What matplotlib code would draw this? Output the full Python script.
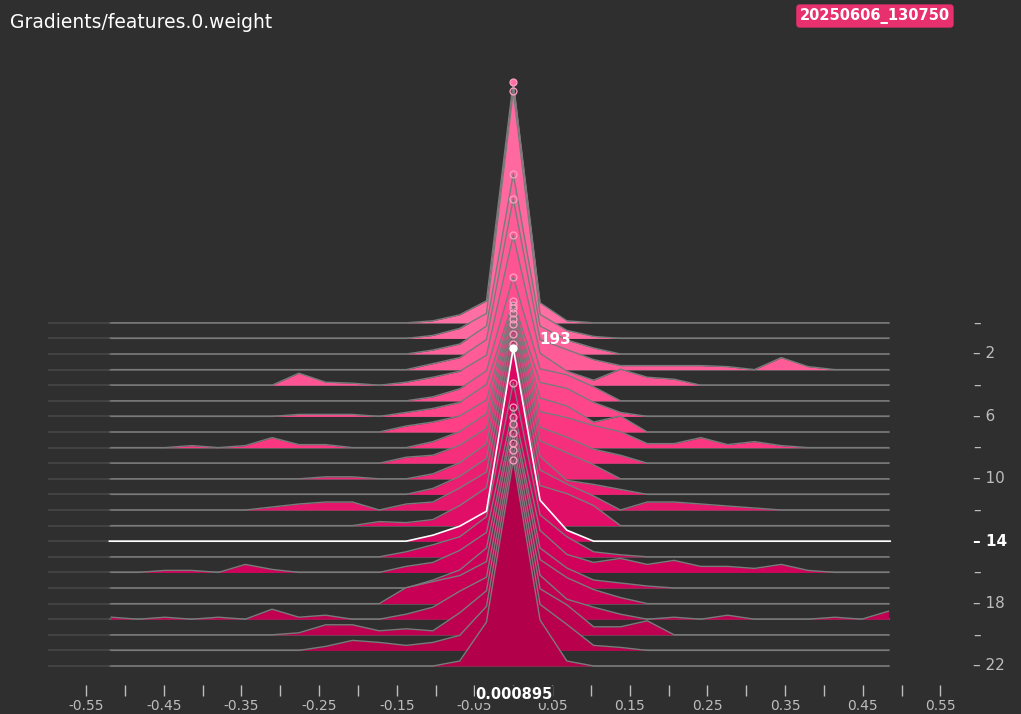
import matplotlib.pyplot as plt
import numpy as np
from matplotlib.colors import LinearSegmentedColormap
import matplotlib.transforms as mtransforms

# bin positions (x) shared by all steps
bin_x = [round(k * 0.0345, 4) for k in range(-15, 15)]
steps = list(range(23))
peaks = [241, 247, 180, 171, 150, 124, 115, 127, 140, 150, 160, 170, 176, 182,
         193, 174, 165, 171, 180, 186, 192, 200, 206]
# near-centre counts for bins k=-4..-1 and 1..4
left_side = [
    [0, 2, 8, 22], [0, 3, 10, 25], [0, 4, 10, 28], [0, 6, 12, 30], [3, 8, 14, 30],
    [0, 4, 12, 30], [4, 8, 14, 32], [6, 10, 16, 32], [0, 6, 16, 34], [6, 8, 18, 35],
    [0, 5, 16, 35], [0, 6, 18, 36], [6, 8, 22, 38], [3, 6, 20, 38], [0, 6, 15, 30],
    [5, 12, 20, 40], [6, 10, 22, 40], [0, 8, 18, 40], [16, 22, 28, 42], [5, 12, 28, 42],
    [6, 4, 22, 44], [5, 8, 15, 44], [0, 0, 5, 44]]
right_side = [
    [20, 2, 0, 0], [24, 8, 2, 0], [28, 14, 6, 0], [30, 20, 10, 4], [32, 14, 5, 16],
    [32, 26, 14, 0], [34, 28, 14, 4], [34, 26, 10, 16], [36, 30, 22, 16], [36, 26, 14, 8],
    [38, 26, 14, 0], [38, 14, 10, 5], [40, 26, 14, 0], [40, 32, 20, 0], [41, 11, 0, 0],
    [42, 20, 5, 2], [42, 18, 10, 14], [40, 20, 8, 5], [44, 26, 14, 6], [44, 20, 12, 5],
    [46, 30, 8, 8], [46, 26, 5, 3], [46, 5, 0, 0]]
# sparse outliers: step -> {bin index k: count}
outliers = {
    3: {5: 4, 6: 4, 7: 4, 8: 3, 10: 12, 11: 3},
    4: {-8: 12, -7: 3, -6: 2, 5: 8, 6: 6},
    6: {-8: 2, -7: 2, -6: 2},
    8: {-12: 2, -10: 2, -9: 10, -8: 3, -7: 3, 5: 4, 6: 4, 7: 10, 8: 3, 9: 6, 10: 2},
    10: {-7: 2, -6: 2},
    12: {-9: 3, -8: 6, -7: 8, -6: 8, 5: 8, 6: 8, 7: 6, 8: 4, 9: 2},
    13: {-5: 4},
    16: {-13: 2, -12: 2, -10: 8, -9: 3, 5: 8, 6: 12, 7: 6, 8: 6, 9: 4, 10: 8, 11: 2},
    17: {5: 2},
    19: {-15: 2, -13: 2, -11: 2, -9: 10, -8: 2, -7: 4, 6: 2, 8: 4, 12: 2, 14: 8},
    20: {-8: 2, -7: 10, -6: 10, -5: 4, 5: 14},
    21: {-7: 4, -6: 10, -5: 8},
}

ROW_GAP = 15.6
cmap = LinearSegmentedColormap.from_list('pk', ['#ff6fa3', '#ff3d85', '#d8005f', '#b3004a'])

fig = plt.figure(figsize=(10.21, 7.14), dpi=100, facecolor='#2f2f2f')
ax = fig.add_axes([48 / 1021, 1 - 685 / 714, 922 / 1021, 625 / 714])
ax.set_facecolor('#2f2f2f')
ax.set_xlim(-0.599, 0.588)
ax.set_ylim(-19, 606)

for i in steps:
    base = (22 - i) * ROW_GAP
    h = np.zeros(len(bin_x))
    c = 15
    h[c] = peaks[i]
    h[c - 4:c] = left_side[i]
    h[c + 1:c + 5] = right_side[i]
    for k, v in outliers.get(i, {}).items():
        h[c + k] = max(h[c + k], v)
    x = np.array(bin_x)
    col = cmap(i / 22)
    z = 2 * i
    ax.hlines(base, -0.599, 0.4853, color='#474747', lw=1.2, zorder=z)
    ax.hlines(base, -0.52, 0.4853, color='#5c5c5c', lw=1.2, zorder=z)
    ax.fill_between(x, base, base + h, color=col, lw=0, zorder=z + 1)
    if i == 14:
        ax.plot(np.r_[-0.52, x, 0.4853], np.r_[base, base + h, base], color='white', lw=1.2, zorder=100)
        ax.plot(0, base + h[c], 'o', ms=5, color='white', zorder=101)
        ax.text(0.033, base + h[c] + 4, '193', color='white', fontsize=11, fontweight='bold', zorder=101)
    else:
        ax.plot(x, base + h, color='#7a7a7a', lw=1, zorder=z + 1)
        ax.plot(0, base + h[c], 'o', ms=5, mfc='#ff6fa3' if i == 0 else 'none',
                mec='#ffa0c4', mew=0.9, zorder=z + 1)

# right step labels
tr = mtransforms.blended_transform_factory(ax.transAxes, ax.transData)
for i in steps:
    if i % 2:
        continue
    base = (22 - i) * ROW_GAP
    lab = '–' if i % 4 == 0 else '– ' + str(i)
    ax.text(1.003, base, lab, transform=tr, va='center', ha='left',
            color='white' if i == 14 else '#bdbdbd', fontsize=11,
            fontweight='bold' if i == 14 else 'normal')

ax.set_yticks([])
for s in ax.spines.values():
    s.set_visible(False)
ticks = [round(-0.55 + 0.1 * k, 2) for k in range(12)]
ax.set_xticks(ticks)
ax.set_xticklabels([f'{t:.2f}' for t in ticks])
ax.set_xticks([round(-0.5 + 0.1 * k, 2) for k in range(11)], minor=True)
ax.tick_params(axis='x', which='both', colors='#bdbdbd', length=8, width=1, direction='out',
               labelsize=10, pad=2)
ax.text(0.000895, -21, '0.000895', ha='center', va='top', color='white', fontsize=10.5,
        fontweight='bold', bbox=dict(fc='#2f2f2f', ec='none', pad=0.5), zorder=200, clip_on=False)

fig.text(10 / 1021, 1 - 23 / 714, 'Gradients/features.0.weight', color='white', fontsize=13.5, va='center')
fig.text(950 / 1021, 1 - 16 / 714, '20250606_130750', color='white', fontsize=10.5, fontweight='bold',
         ha='right', va='center', bbox=dict(boxstyle='round,pad=0.25', fc='#e8306e', ec='none'))

fig.savefig('out.png', dpi=100, facecolor=fig.get_facecolor())
